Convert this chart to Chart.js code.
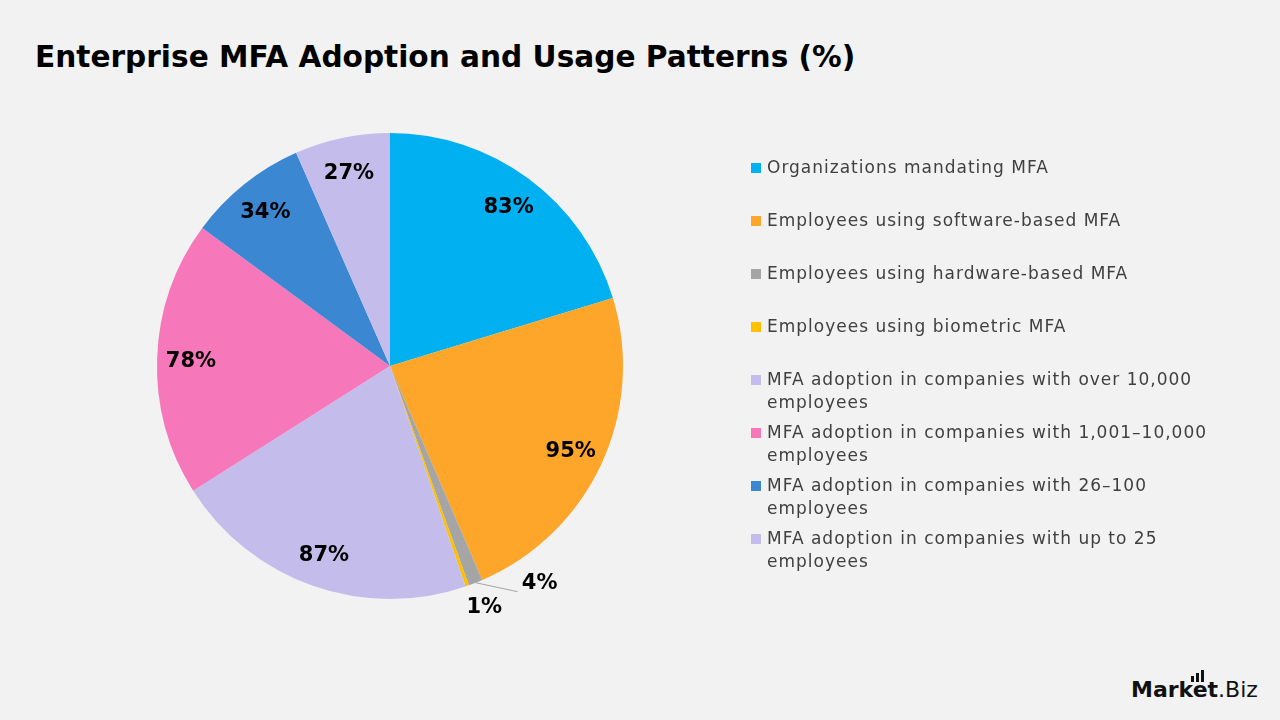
<!DOCTYPE html>
<html>
<head>
<meta charset="utf-8">
<script src="https://cdn.jsdelivr.net/npm/chart.js@4"></script>
<style>
  html, body { margin:0; padding:0; background:#f2f2f2; }
  body { width:1280px; height:720px; position:relative; overflow:hidden; font-family:'DejaVu Sans', sans-serif; }
  #title { position:absolute; left:35px; top:40px; font-size:29.6px; font-weight:bold; color:#000; letter-spacing:0px; }
  #wrap { position:absolute; left:0; top:100px; width:780px; height:532px; }
  #legend { position:absolute; left:751px; top:156px; }
  .item { position:relative; padding-left:16px; font-size:17px; line-height:23px; color:#404040; letter-spacing:1px; }
  .item .sw { position:absolute; left:0; top:7px; width:10px; height:10px; }
  #logo { position:absolute; left:1131px; top:677px; font-size:22px; color:#111; }
  #logo b { font-weight:bold; }
  #bars { position:absolute; left:60px; top:5px; }
  #bars i { position:absolute; bottom:0; width:3px; background:#111; }
</style>
</head>
<body>
<div id="title">Enterprise MFA Adoption and Usage Patterns (%)</div>
<div id="wrap"><canvas id="chart"></canvas></div>
<div id="legend"></div>
<div id="logo"><b>Market</b>.Biz</div>
<script>
// categories (split where the legend wraps)
const labels = [
  ['Organizations mandating MFA'],
  ['Employees using software-based MFA'],
  ['Employees using hardware-based MFA'],
  ['Employees using biometric MFA'],
  ['MFA adoption in companies with over 10,000', 'employees'],
  ['MFA adoption in companies with 1,001\u201310,000', 'employees'],
  ['MFA adoption in companies with 26\u2013100', 'employees'],
  ['MFA adoption in companies with up to 25', 'employees']
];
const values = [83, 95, 4, 1, 87, 78, 34, 27];
const colors = ['#00b0f0', '#fda62a', '#a5a5a5', '#ffc000', '#c4bdeb', '#f678ba', '#3b87d2', '#c4bdeb'];

// legend (html)
const legendEl = document.getElementById('legend');
labels.forEach((lines, i) => {
  const d = document.createElement('div');
  d.className = 'item';
  d.style.marginBottom = lines.length > 1 ? '7px' : '30px';
  d.innerHTML = `<span class="sw" style="background:${colors[i]}"></span>` + lines.join('<br>');
  legendEl.appendChild(d);
});

// percent labels on slices, small slices outside
const sliceLabels = {
  id: 'sliceLabels',
  afterDatasetsDraw(chart, args, opts) {
    const ctx = chart.ctx;
    const meta = chart.getDatasetMeta(0);
    ctx.save();
    ctx.font = 'bold 21px "DejaVu Sans", sans-serif';
    ctx.fillStyle = '#000';
    ctx.textAlign = 'center';
    ctx.textBaseline = 'middle';
    meta.data.forEach((arc, i) => {
      const v = chart.data.datasets[0].data[i];
      const mid = (arc.startAngle + arc.endAngle) / 2;
      const out = opts.outside[i];
      if (out) {
        const ex = arc.x + Math.cos(mid) * arc.outerRadius;
        const ey = arc.y + Math.sin(mid) * arc.outerRadius;
        if (out.line) {
          ctx.strokeStyle = '#a5a5a5';
          ctx.lineWidth = 1;
          ctx.beginPath();
          ctx.moveTo(ex, ey);
          ctx.lineTo(ex + out.line[0], ey + out.line[1]);
          ctx.stroke();
        }
        ctx.fillText(v + '%', ex + out.dx, ey + out.dy);
      } else {
        const r = arc.outerRadius * 0.855;
        ctx.fillText(v + '%', arc.x + Math.cos(mid) * r, arc.y + Math.sin(mid) * r + 2);
      }
    });
    ctx.restore();
  }
};

new Chart(document.getElementById('chart'), {
  type: 'pie',
  data: {
    labels: labels.map(l => l.join(' ')),
    datasets: [{
      data: values,
      backgroundColor: colors,
      borderWidth: 0
    }]
  },
  options: {
    responsive: true,
    maintainAspectRatio: false,
    animation: false,
    layout: { padding: { left: 157, right: 157, top: 33, bottom: 33 } },
    plugins: {
      legend: { display: false },
      tooltip: { enabled: false },
      sliceLabels: {
        outside: {
          2: { line: [42, 9], dx: 64, dy: 1 },
          3: { dx: 17, dy: 22 }
        }
      }
    }
  },
  plugins: [sliceLabels]
});

// logo bars
const bars = document.createElement('span');
bars.id = 'bars';
[[0, 6], [5, 9], [10, 12]].forEach(([x, h]) => {
  const b = document.createElement('i');
  b.style.left = x + 'px';
  b.style.height = h + 'px';
  bars.appendChild(b);
});
document.getElementById('logo').appendChild(bars);
</script>
</body>
</html>
